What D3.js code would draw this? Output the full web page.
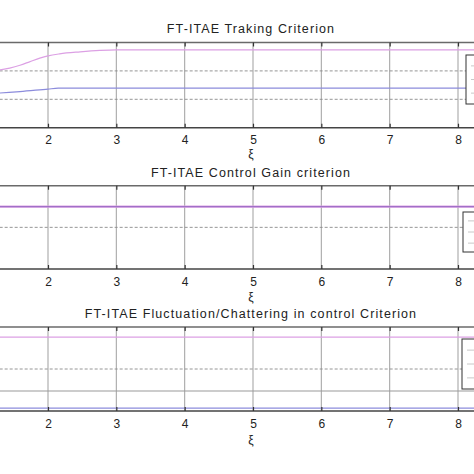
<!DOCTYPE html>
<html>
<head>
<meta charset="utf-8">
<script src="https://cdn.jsdelivr.net/npm/d3@7"></script>
<style>
  html, body { margin: 0; padding: 0; background: #fff; }
  svg { display: block; }
  text { font-family: "Liberation Sans", Arial, Helvetica, sans-serif; fill: #222; }
</style>
</head>
<body>
<svg id="chart" width="474" height="474"></svg>
<script>
// ---------------- data ----------------
const xTicks = [2, 3, 4, 5, 6, 7, 8];
const xLabel = "ξ";
const titles = [
  "FT-ITAE Traking Criterion",
  "FT-ITAE Control Gain criterion",
  "FT-ITAE Fluctuation/Chattering in control Criterion"
];
const seriesNames = ["series 1", "series 2", "series 3"];

// Panel 1 (tracking)
const trackPinkXi  = [1, 1.29, 1.44, 1.59, 1.73, 1.88, 2.0, 2.17, 2.47, 2.76, 3.0, 8.5];
const trackPinkVal = [1.89, 2.03, 2.10, 2.20, 2.32, 2.45, 2.53, 2.60, 2.67, 2.72, 2.74, 2.74];
const trackBlueXi  = [1, 1.29, 1.59, 2.0, 2.15, 8.5];
const trackBlueVal = [1.19, 1.22, 1.27, 1.36, 1.39, 1.39];

// Panel 2 (control gain)
const gainXi   = [1, 8.5];
const gainPink = [1.5, 1.5];
const gainBlue = [1.5, 1.5];

// Panel 3 (fluctuation / chattering)
const chatXi   = [1, 8.5];
const chatPink = [1.76, 1.76];
const chatGray = [0.476, 0.476];
const chatBlue = [0.07, 0.07];

// y grid ticks per panel
const gridTop = [1, 2];
const gridMid = [1];
const gridBot = [1];

// ---------------- drawing ----------------
const svg = d3.select("#chart");
const x = d3.scaleLinear().domain([2, 8]).range([48, 458]);
const xMin = 1, xMax = 8.5;

const colPink = "#dca0e4";
const colBlue = "#8c8cdc";
const colGray = "#9a9a9a";

const panels = [
  { top: 42.5, bottom: 127.7, domain: [0, 3], grid: gridTop, title: titles[0], titleY: 33, xiY: 158,
    legend: { y0: 55, y1: 104, x0: 466 },
    series: [
      { xi: trackPinkXi, v: trackPinkVal, c: colPink, w: 1.2 },
      { xi: trackBlueXi, v: trackBlueVal, c: colBlue, w: 1.2 }
    ] },
  { top: 185.7, bottom: 269, domain: [0, 2], grid: gridMid, title: titles[1], titleY: 177, xiY: 301,
    legend: { y0: 212, y1: 252, x0: 463 },
    series: [
      { xi: gainXi, v: gainPink, c: colPink, w: 2.2 },
      { xi: gainXi, v: gainBlue, c: "#a070c8", w: 1.2 }
    ] },
  { top: 327, bottom: 411, domain: [0, 2], grid: gridBot, title: titles[2], titleY: 318, xiY: 444,
    legend: { y0: 339, y1: 389, x0: 462 },
    series: [
      { xi: chatXi, v: chatPink, c: colPink, w: 1.2 },
      { xi: chatXi, v: chatGray, c: colGray, w: 1.2 },
      { xi: chatXi, v: chatBlue, c: colBlue, w: 1.2 }
    ] }
];

panels.forEach((p, pi) => {
  const y = d3.scaleLinear().domain(p.domain).range([p.bottom, p.top]);
  const g = svg.append("g");

  // vertical grid
  g.selectAll("line.vg").data(xTicks).join("line")
    .attr("x1", d => x(d)).attr("x2", d => x(d))
    .attr("y1", p.top).attr("y2", p.bottom)
    .attr("stroke", "#a8a8a8").attr("stroke-width", 1.1);

  // horizontal dashed grid
  g.selectAll("line.hg").data(p.grid).join("line")
    .attr("x1", x(xMin)).attr("x2", x(xMax))
    .attr("y1", d => y(d)).attr("y2", d => y(d))
    .attr("stroke", "#8a8a8a").attr("stroke-width", 0.9)
    .attr("stroke-dasharray", "3,2");

  // series
  const line = d3.line().x(d => x(d[0])).y(d => y(d[1])).curve(d3.curveMonotoneX);
  p.series.forEach(s => {
    g.append("path")
      .datum(s.xi.map((xi, i) => [xi, s.v[i]]))
      .attr("d", line)
      .attr("fill", "none")
      .attr("stroke", s.c)
      .attr("stroke-width", s.w);
  });

  // frame (top & bottom)
  g.append("line").attr("x1", x(xMin)).attr("x2", x(xMax))
    .attr("y1", p.top).attr("y2", p.top)
    .attr("stroke", "#6a6a6a").attr("stroke-width", 1.4);
  g.append("line").attr("x1", x(xMin)).attr("x2", x(xMax))
    .attr("y1", p.bottom).attr("y2", p.bottom)
    .attr("stroke", "#444").attr("stroke-width", 1.5);

  // bottom axis with inward ticks + labels
  const ax = g.append("g").attr("transform", `translate(0,${p.bottom})`)
    .call(d3.axisBottom(x).tickValues(xTicks).tickSize(-4).tickPadding(8).tickFormat(d3.format("d")));
  ax.select(".domain").remove();
  ax.selectAll(".tick line").attr("stroke", "#333").attr("stroke-width", 1.2);
  ax.selectAll(".tick text").attr("font-size", 12).style("font-family", '"Liberation Sans", Arial, sans-serif').attr("fill", "#222");

  // top inward ticks
  const axT = g.append("g").attr("transform", `translate(0,${p.top})`)
    .call(d3.axisTop(x).tickValues(xTicks).tickSize(-4).tickFormat(""));
  axT.select(".domain").remove();
  axT.selectAll(".tick line").attr("stroke", "#333").attr("stroke-width", 1.2);

  // title
  g.append("text").attr("x", 251).attr("y", p.titleY)
    .attr("text-anchor", "middle").attr("font-size", 12.5)
    .style("letter-spacing", "1.1px")
    .text(p.title);

  // xi label
  g.append("text").attr("x", 251).attr("y", p.xiY)
    .attr("text-anchor", "middle").attr("font-size", 12)
    .text(xLabel);

  // legend box (mostly cut off at the right edge)
  const L = p.legend;
  g.append("rect").attr("x", L.x0).attr("y", L.y0)
    .attr("width", 60).attr("height", L.y1 - L.y0)
    .attr("fill", "#fff").attr("stroke", "#333").attr("stroke-width", 1);
  const ly = d3.scalePoint().domain(seriesNames).range([L.y0, L.y1]).padding(0.8);
  g.selectAll("line.lg").data(seriesNames).join("line")
    .attr("x1", L.x0 + 5).attr("x2", L.x0 + 30)
    .attr("y1", d => ly(d)).attr("y2", d => ly(d))
    .attr("stroke", "#c8c8c8").attr("stroke-width", 1);
});
</script>
</body>
</html>
